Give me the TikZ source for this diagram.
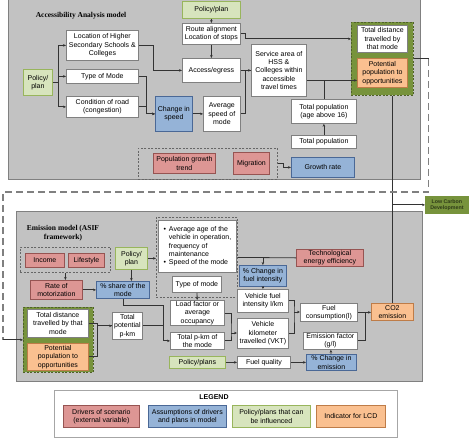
\documentclass[tikz,border=0pt]{standalone}
\usepackage{fontspec}
\setmainfont{Liberation Sans}
\newfontfamily\titlefont{Liberation Serif}
\usepackage{tikz}
\usetikzlibrary{arrows.meta}
\definecolor{panelgrey}{RGB}{194,194,194}
\definecolor{panelline}{RGB}{128,128,128}
\definecolor{driverred}{RGB}{221,150,148}
\definecolor{driverline}{RGB}{150,84,82}
\definecolor{assumeblue}{RGB}{149,179,215}
\definecolor{assumeline}{RGB}{74,104,150}
\definecolor{policygreen}{RGB}{215,228,189}
\definecolor{policyline}{RGB}{152,181,92}
\definecolor{indicatororange}{RGB}{250,192,144}
\definecolor{indicatorline}{RGB}{190,124,72}
\definecolor{lcdgreen}{RGB}{119,147,60}
\definecolor{lcdline}{RGB}{79,98,40}
\newcommand{\boxfont}{\fontsize{7}{8.4}\selectfont}
\tikzset{
    % boxes are placed by their top left corner
    box/.style={
        draw,
        anchor=north west,
        align=center,
        inner sep=1pt,
        line width=0.8pt,
        font=\boxfont
    },
    plainbox/.style={box, fill=white, draw=panelline},
    driverbox/.style={box, fill=driverred, draw=driverline},
    assumebox/.style={box, fill=assumeblue, draw=assumeline},
    policybox/.style={box, fill=policygreen, draw=policyline},
    indicatorbox/.style={box, fill=indicatororange, draw=indicatorline},
    groupbox/.style={
        draw=panelline!80!black,
        anchor=north west,
        inner sep=0pt,
        line width=0.8pt,
        dash pattern=on 2pt off 1.5pt
    },
    lcdgroup/.style={groupbox, fill=lcdgreen, draw=lcdline},
    panel/.style={fill=panelgrey, draw=panelline, line width=1pt},
    link/.style={line width=0.8pt, black!80},
    flow/.style={
        line width=0.8pt,
        black!80,
        ->,
        >={Stealth[length=3pt, width=2.6pt]}
    },
    feedback/.style={
        line width=1.2pt,
        gray,
        dash pattern=on 7pt off 4pt
    }
}

\begin{document}
\begin{tikzpicture}[x=1pt,y=-1pt]
    \useasboundingbox (0,0) rectangle (474,438);
    % ===================== Accessibility model =====================
    \draw[panel] (8,0) rectangle (420,180);
    \node[font=\titlefont\bfseries\fontsize{7.5}{9}\selectfont] (titleA) at (81,16) {Accessibility Analysis model};

    \node[lcdgroup, minimum width=62, minimum height=73] (lcdgroupA) at (351,22) {};
    \node[groupbox, minimum width=139, minimum height=31] (popgroup) at (138,148) {};

    \node[policybox, minimum width=58, minimum height=17] (policytop) at (182,1) {Policy/plan};
    \node[plainbox, minimum width=58, minimum height=21] (route) at (182,23) {Route alignment\\Location of stops};
    \node[plainbox, minimum width=58, minimum height=24] (access) at (182,58) {Access/egress};
    \node[policybox, minimum width=29, minimum height=26] (policyleft) at (23,69) {Policy/\\plan};
    \node[plainbox, minimum width=72, minimum height=30] (school) at (66,30) {Location of Higher\\Secondary Schools \&\\Colleges};
    \node[plainbox, minimum width=72, minimum height=14] (modeA) at (66,69) {Type of Mode};
    \node[plainbox, minimum width=72, minimum height=21] (road) at (66,96) {Condition of road\\(congestion)};
    \node[assumebox, minimum width=37, minimum height=35] (speed) at (155,96) {Change in\\speed};
    \node[plainbox, minimum width=37, minimum height=35] (avgspeed) at (203,96) {Average\\speed of\\mode};
    \node[plainbox, minimum width=55, minimum height=52] (service) at (251,44) {Service area of\\HSS \&\\Colleges within\\accessible\\travel times};
    \node[plainbox, minimum width=50, minimum height=27] (distA) at (357,25) {Total distance\\travelled by\\that mode};
    \node[indicatorbox, minimum width=50, minimum height=29] (potA) at (357,58) {Potential\\population to\\opportunities};
    \node[plainbox, minimum width=65, minimum height=24] (pop16) at (291,99) {Total population\\(age above 16)};
    \node[plainbox, minimum width=65, minimum height=13] (pop) at (291,135) {Total population};
    \node[driverbox, minimum width=62, minimum height=20] (trend) at (153,153) {Population growth\\trend};
    \node[driverbox, minimum width=36, minimum height=22] (migration) at (233,152) {Migration};
    \node[assumebox, minimum width=63, minimum height=20] (growth) at (291,157) {Growth rate};

    \draw[flow] (policyleft.east) -- ++(6,0) |- (school.west);
    \draw[flow] (policyleft.east) -- ++(6,0) |- (modeA.west);
    \draw[flow] (policyleft.east) -- ++(6,0) |- (road.west);
    \draw[flow] (school.east) -- ++(15,0) |- (access.west);
    \draw[flow] (modeA.east) -- ++(8,0) |- (speed.west);
    \draw[flow] (road.east) -- ++(8,0) |- (speed.west);
    \draw[flow] (speed) -- (avgspeed);
    \draw[flow] (policytop) -- (route);
    \draw[flow] (route) -- (access);
    \draw[flow] (route.east) -- ++(5,0) |- (lcdgroupA.west |- distA.west);
    \draw[flow] (access) -- (service);
    \draw[link] (avgspeed.east) -- ++(5,0) |- (service.west);
    \coordinate (serviceout) at ([yshift=-10pt]service.east);
    \draw[flow] (serviceout) -- (serviceout -| potA.west);
    \draw[link] (pop16.north) -- (pop16.north |- serviceout);
    \draw[flow] (pop) -- (pop16);
    \draw[flow] (popgroup.east) -- ++(6,0) |- (growth.west);

    % ===================== Emission model =====================
    \draw[panel] (16,212) rectangle (422,381);
    \node[font=\titlefont\bfseries\fontsize{7.5}{9.5}\selectfont, align=center] (titleB) at (63,233) {Emission model (ASIF\\framework)};

    \node[groupbox, minimum width=90, minimum height=25] (incomegroup) at (20,247) {};
    \node[groupbox, minimum width=81, minimum height=80] (vehiclegroup) at (156,217) {};
    \node[lcdgroup, minimum width=70, minimum height=65] (lcdgroupB) at (23,307) {};

    \node[driverbox, minimum width=39, minimum height=14] (income) at (25,253) {Income};
    \node[driverbox, minimum width=36, minimum height=14] (lifestyle) at (68,253) {Lifestyle};
    \node[policybox, minimum width=32, minimum height=22] (policymid) at (115,247) {Policy/\\plan};
    \node[plainbox, minimum width=78, minimum height=52, align=left] (vehicle) at (158,220)
        {\begin{tabular}{@{}l@{\hspace{3pt}}l@{}}\textbullet & Average age of the\\ & vehicle in operation,\\ & frequency of\\ & maintenance\\ \textbullet & Speed of the mode\end{tabular}};
    \node[plainbox, minimum width=49, minimum height=16] (modeB) at (172,276) {Type of mode};
    \node[driverbox, minimum width=52, minimum height=19] (motor) at (30,280) {Rate of\\motorization};
    \node[assumebox, minimum width=53, minimum height=17] (share) at (96,281) {\% share of the\\mode};
    \node[driverbox, minimum width=67, minimum height=16] (techno) at (296,249) {Technological\\energy efficiency};
    \node[assumebox, minimum width=47, minimum height=21] (fuelint) at (239,265) {\% Change in\\fuel intensity};
    \node[plainbox, minimum width=51, minimum height=23] (vfi) at (237,289) {Vehicle fuel\\intensity l/km};
    \node[plainbox, minimum width=61, minimum height=28] (distB) at (27,309) {Total distance\\travelled by that\\mode};
    \node[indicatorbox, minimum width=61, minimum height=27] (potB) at (27,343) {Potential\\population to\\opportunities};
    \node[plainbox, minimum width=30, minimum height=27] (totpot) at (112,312) {Total\\potential\\p-km};
    \node[plainbox, minimum width=54, minimum height=25] (load) at (170,300) {Load factor or\\average\\occupancy};
    \node[plainbox, minimum width=54, minimum height=17] (pkm) at (170,332) {Total p-km of\\the mode};
    \node[plainbox, minimum width=51, minimum height=30] (vkt) at (237,318) {Vehicle\\kilometer\\travelled (VKT)};
    \node[plainbox, minimum width=57, minimum height=18] (fuelcons) at (300,303) {Fuel\\consumption(l)};
    \node[plainbox, minimum width=54, minimum height=16] (efactor) at (303,332) {Emission factor\\(g/l)};
    \node[indicatorbox, minimum width=42, minimum height=17] (co2) at (371,303) {CO2\\emission};
    \node[policybox, minimum width=56, minimum height=12] (policylow) at (169,356) {Policy/plans};
    \node[plainbox, minimum width=53, minimum height=12] (fuelq) at (237,356) {Fuel quality};
    \node[assumebox, minimum width=50, minimum height=16] (emchange) at (306,354) {\% Change in\\emission};

    \draw[flow] (incomegroup.south) -- (incomegroup.south |- motor.north);
    \draw[flow] (motor) -- (share);
    \draw[flow] (policymid.south) -- (policymid.south |- share.north);
    \draw[flow] (policymid) -- (policymid -| vehiclegroup.west);
    \draw[link] (vehiclegroup.east) -- (techno.west);
    \draw[flow] (fuelint.north |- techno.west) -- (fuelint.north);
    \draw[flow] (fuelint) -- (vfi);
    \draw[flow] (modeB) -- (load);
    \draw[flow] (distB.east) -- ++(9,0) |- (totpot.west);
    \draw[link] (potB.east) -- ++(9,0) |- (totpot.west);
    \coordinate (pkmjoin) at (163,305);
    \draw[flow] (share.south) |- (pkmjoin) |- (pkm.west);
    \draw[link] (totpot.east) -- (totpot.east -| pkmjoin);
    \coordinate (vktjoin) at (231,333);
    \draw[link] (load.east) -| (vktjoin) |- (pkm.east);
    \draw[flow] (vktjoin) -- (vktjoin -| vkt.west);
    \coordinate (fueljoin) at (294,312);
    \draw[link] (vfi.east) -| (fueljoin) |- (vkt.east);
    \draw[flow] (fueljoin) -- (fueljoin -| fuelcons.west);
    \draw[flow] (fuelcons.east) -- (fuelcons.east -| co2.west);
    \draw[link] (efactor.east) -| ([xshift=-6pt]co2.west);
    \draw[flow] (emchange) -- (efactor);
    \draw[flow] (policylow) -- (fuelq);
    \draw[flow] (fuelq) -- (emchange);

    % ===================== Low carbon development and feedback =====================
    \node[box, fill=lcdgreen, draw=lcdgreen, text=lcdline!60!black, font=\bfseries\fontsize{5.3}{6.3}\selectfont,
          minimum width=43, minimum height=17] (lcd) at (425,196) {Low Carbon\\Development};
    \coordinate (lcdtap) at (co2.north |- lcd.west);
    \draw[link] (co2.north |- lcdgroupA.south) -- (lcdtap) -- (co2.north);
    \draw[flow] (lcdtap) -- (lcd.west);

    \draw[link] (lcdgroupA.east) -- ++(15,0) coordinate (fbstart);
    \coordinate (fbend) at (lcdgroupB.west -| 3,0);
    \draw[feedback] (fbstart) |- (3,192) -- (fbend);
    \draw[flow] (fbend) -- (lcdgroupB.west);

    % ===================== Legend =====================
    \draw[line width=0.8pt, draw=panelline!70] (54,390) rectangle (397,437);
    \node[font=\bfseries\fontsize{7}{8}\selectfont] (legend) at (214,397) {LEGEND};
    \node[driverbox, minimum width=76, minimum height=22] (keydriver) at (63,405) {Drivers of scenario\\(external variable)};
    \node[assumebox, minimum width=78, minimum height=22] (keyassume) at (148,405) {Assumptions of drivers\\and plans in model};
    \node[policybox, minimum width=78, minimum height=22] (keypolicy) at (232,405) {Policy/plans that can\\be influenced};
    \node[indicatorbox, minimum width=69, minimum height=22] (keyindicator) at (316,405) {Indicator for LCD};
\end{tikzpicture}
\end{document}
